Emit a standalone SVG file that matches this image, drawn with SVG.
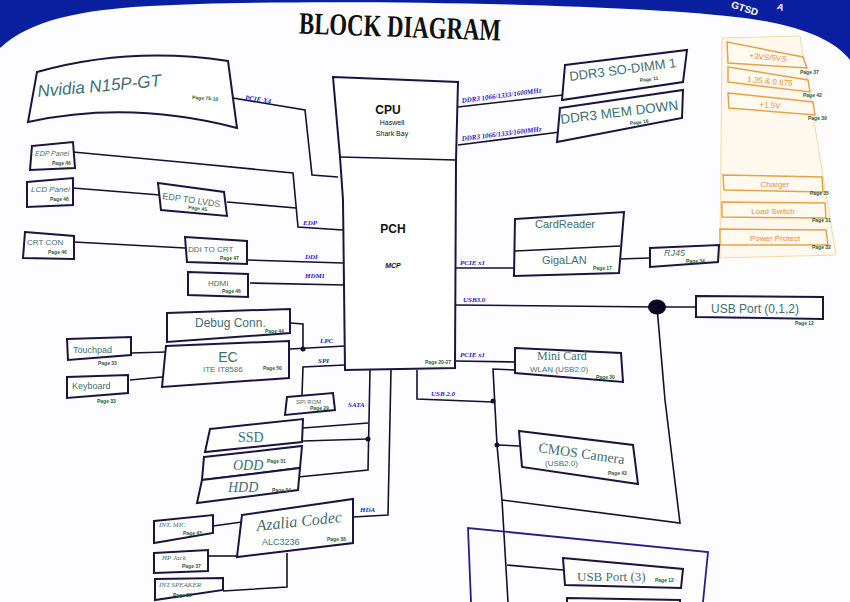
<svg xmlns="http://www.w3.org/2000/svg" width="850" height="602" viewBox="0 0 850 602">
<style>
.box{fill:#fff;stroke:#1c1440;stroke-width:2}
.obox{fill:#fffaf0;stroke:#e6a24a;stroke-width:1.5}
.w{fill:none;stroke:#14102e;stroke-width:1.6}
.t{fill:#3d6f70;font-family:"Liberation Sans",Arial,sans-serif}
.s{fill:#3d6f70;font-family:"Liberation Serif","Times New Roman",serif}
.k{fill:#111;font-family:"Liberation Sans",Arial,sans-serif}
.pg{fill:#1f5f3a;font-family:"Liberation Sans",Arial,sans-serif;font-size:5px;font-weight:bold}
.bus{fill:#1a1ac8;font-family:"Liberation Serif","Times New Roman",serif;font-size:7px;font-weight:bold;font-style:italic}
.o{fill:#ef8a3a;font-family:"Liberation Sans",Arial,sans-serif;font-size:8px;text-anchor:middle}
</style>
<rect width="850" height="602" fill="#fdfdff"/>
<path d="M0,0 H850 V60 C836,42 805,26 745,18 C630,3 300,-2 150,6 C80,10 30,20 0,48 Z" fill="#0a1fa0"/>
<text x="731" y="12" transform="rotate(18 745 8)" fill="#fff" font-family="Liberation Sans,Arial,sans-serif" font-size="10" font-weight="bold">GTSD</text>
<text x="777" y="10" transform="rotate(20 780 8)" fill="#fff" font-family="Liberation Sans,Arial,sans-serif" font-size="9" font-weight="bold">A</text>
<text x="400" y="37" transform="rotate(2 400 27)" text-anchor="middle" textLength="202" lengthAdjust="spacingAndGlyphs" font-family="Liberation Serif,Times New Roman,serif" font-weight="bold" font-size="31" fill="#111">BLOCK DIAGRAM</text>

<g id="power-panel">
<polygon points="722,38 800,36 836,255 720,258" fill="#fff8ec" stroke="#f3d9a8" stroke-width="1"/>
<polygon class="obox" points="727,42 803,57 807,68 728,63"/><text class="o" x="768" y="60" transform="rotate(5 768 57)">+3VS/5VS</text><text class="pg" x="800" y="74">Page 37</text>
<polygon class="obox" points="728,67 808,80 810,92 728,82"/><text class="o" x="770" y="84" transform="rotate(5 770 80)">1.35 &amp; 0.675</text><text class="pg" x="803" y="97">Page 42</text>
<polygon class="obox" points="728,93 813,102 815,115 729,108"/><text class="o" x="770" y="108" transform="rotate(4 770 105)">+1.5V</text><text class="pg" x="808" y="120">Page 39</text>
<polygon class="obox" points="723,175 822,177 823,192 724,190"/><text class="o" x="775" y="187">Charger</text><text class="pg" x="810" y="195">Page 35</text>
<polygon class="obox" points="722,202 825,203 826,218 722,217"/><text class="o" x="773" y="214">Load Switch</text><text class="pg" x="812" y="222">Page 31</text>
<polygon class="obox" points="720,229 826,230 828,245 720,245"/><text class="o" x="775" y="241">Power Protect</text><text class="pg" x="812" y="249">Page 32</text>
</g>

<g id="connectors">
<polyline class="w" points="233,98 305,110 312,175 338,177"/>
<polyline class="w" points="73,152 180,162 293,173 298,227 343,230"/>
<polyline class="w" points="73,188 160,195"/>
<polyline class="w" points="227,202 296,208"/>
<polyline class="w" points="74,242 185,248"/>
<polyline class="w" points="248,260 343,263"/>
<polyline class="w" points="250,283 345,285"/>
<polyline class="w" points="290,323 303,324 303,349"/>
<polyline class="w" points="290,349 345,346"/>
<polyline class="w" points="345,365 303,367 302,395"/>
<polyline class="w" points="131,353 166,352"/>
<polyline class="w" points="130,380 162,377"/>
<polyline class="w" points="370,370 368,470 298,477"/>
<polyline class="w" points="368,423 303,428"/>
<polyline class="w" points="368,439 303,441"/>
<polyline class="w" points="391,370 388,515 353,517"/>
<polyline class="w" points="213,526 242,522"/>
<polyline class="w" points="208,556 237,556"/>
<polyline class="w" points="223,591 287,587 287,553"/>
<polyline class="w" points="458,107 563,95"/>
<polyline class="w" points="458,145 560,132"/>
<polyline class="w" points="455,268 514,268"/>
<polyline class="w" points="619,259 650,258"/>
<polyline class="w" points="455,305 657,307 696,307"/>
<polyline class="w" points="657,307 665,400 680,523 502,500"/>
<polyline class="w" points="455,361 515,362"/>
<polyline class="w" points="417,370 417,399 493,402"/>
<polyline class="w" points="515,370 493,369 497,445 502,500 508,602"/>
<polyline class="w" points="497,445 520,446"/>
<polyline class="w" points="507,565 563,570"/>
<circle cx="303" cy="349" r="2.5" fill="#14102e"/>
<circle cx="368" cy="439" r="2.5" fill="#14102e"/>
<circle cx="493" cy="401" r="2.5" fill="#14102e"/>
<circle cx="497" cy="445" r="2.5" fill="#14102e"/>
<ellipse cx="657" cy="307" rx="9" ry="7.5" fill="#0a0820"/>
<text class="bus" x="245" y="100" transform="rotate(8 245 98)">PCIE X4</text>
<text class="bus" x="303" y="225">EDP</text>
<text class="bus" x="305" y="259">DDI</text>
<text class="bus" x="305" y="278">HDMI</text>
<text class="bus" x="320" y="343">LPC</text>
<text class="bus" x="318" y="363">SPI</text>
<text class="bus" x="348" y="407">SATA</text>
<text class="bus" x="360" y="512">HDA</text>
<text class="bus" x="462" y="103" transform="rotate(-7.5 462 103)">DDR3 1066/1333/1600MHz</text>
<text class="bus" x="462" y="141" transform="rotate(-7 462 141)">DDR3 1066/1333/1600MHz</text>
<text class="bus" x="460" y="265">PCIE x1</text>
<text class="bus" x="463" y="302">USB3.0</text>
<text class="bus" x="460" y="357">PCIE x1</text>
<text class="bus" x="431" y="396">USB 2.0</text>
</g>

<g id="cpu-pch">
<polygon class="box" points="333,77 458,82 456,160 455,368 345,370 343,200 340,157"/>
<line class="w" x1="340" y1="157" x2="456" y2="160" stroke-width="2"/>
<text class="k" x="388" y="114" font-size="12" font-weight="bold" text-anchor="middle">CPU</text>
<text class="k" x="392" y="125" font-size="7" text-anchor="middle">Haswell</text>
<text class="k" x="392" y="136" font-size="7" text-anchor="middle">Shark Bay</text>
<text class="k" x="393" y="233" font-size="12" font-weight="bold" text-anchor="middle">PCH</text>
<text class="k" x="393" y="268" font-size="7" font-weight="bold" font-style="italic" text-anchor="middle">MCP</text>
<text class="pg" x="425" y="364">Page 20-27</text>
</g>

<g id="nvidia">
<path class="box" d="M37,72 Q130,46 228,61 L237,128 Q130,100 28,122 Z"/>
<text class="t" x="38" y="97" transform="rotate(-5 38 97)" font-size="17" font-style="italic">Nvidia N15P-GT</text>
<text class="pg" x="192" y="99" transform="rotate(4 192 99)">Page 75-10</text>
</g>
<g id="edp-panel">
<polygon class="box" points="32,146 73,142 75,168 30,170"/>
<text class="t" x="35" y="156" font-size="7" font-style="italic">EDP Panel</text><text class="pg" x="52" y="165">Page 46</text>
</g>
<g id="lcd-panel">
<polygon class="box" points="27,182 73,178 73,205 27,207"/>
<text class="t" x="31" y="192" font-size="8" font-style="italic">LCD Panel</text><text class="pg" x="50" y="201">Page 46</text>
</g>
<g id="edp-to-lvds">
<polygon class="box" points="158,183 224,192 227,216 161,210"/>
<text class="t" x="162" y="199" transform="rotate(8 162 199)" font-size="9">EDP TO LVDS</text><text class="pg" x="188" y="209" transform="rotate(6 188 209)">Page 45</text>
</g>
<g id="crt-con">
<polygon class="box" points="25,232 74,236 74,259 23,258"/>
<text class="t" x="27" y="245" font-size="8">CRT CON</text><text class="pg" x="48" y="254">Page 46</text>
</g>
<g id="ddi-to-crt">
<polygon class="box" points="185,237 247,241 247,264 187,262"/>
<text class="t" x="188" y="252" font-size="8">DDI TO CRT</text><text class="pg" x="220" y="260">Page 47</text>
</g>
<g id="hdmi">
<polygon class="box" points="188,272 248,274 248,297 188,295"/>
<text class="t" x="208" y="286" font-size="8">HDMI</text><text class="pg" x="222" y="293">Page 46</text>
</g>
<g id="debug-conn">
<polygon class="box" points="167,313 290,309 290,333 167,342"/>
<text class="t" x="195" y="327" font-size="12">Debug Conn.</text><text class="pg" x="265" y="333">Page 44</text>
</g>
<g id="ec">
<polygon class="box" points="166,346 289,341 289,378 162,387"/>
<text class="t" x="228" y="362" font-size="14" text-anchor="middle">EC</text>
<text class="t" x="203" y="372" font-size="8">ITE IT8586</text><text class="pg" x="263" y="370">Page 50</text>
</g>
<g id="touchpad">
<polygon class="box" points="67,339 131,337 131,355 68,360"/>
<text class="t" x="73" y="353" font-size="9">Touchpad</text><text class="pg" x="98" y="365">Page 33</text>
</g>
<g id="keyboard">
<polygon class="box" points="67,377 128,375 128,393 67,398"/>
<text class="t" x="72" y="389" font-size="9">Keyboard</text><text class="pg" x="97" y="403">Page 33</text>
</g>
<g id="spi-rom">
<polygon class="box" points="287,397 333,393 335,410 285,415"/>
<text class="t" x="296" y="404" font-size="6">SPI ROM</text><text class="pg" x="310" y="410">Page 29</text>
</g>
<g id="ssd">
<polygon class="box" points="210,429 303,419 302,442 205,452"/>
<text class="s" x="238" y="442" font-size="14">SSD</text>
</g>
<g id="odd">
<polygon class="box" points="204,457 302,446 300,468 202,480"/>
<text class="s" x="233" y="470" font-size="14" font-style="italic">ODD</text><text class="pg" x="267" y="463">Page 31</text>
</g>
<g id="hdd">
<polygon class="box" points="202,480 300,468 298,490 197,503"/>
<text class="s" x="228" y="492" font-size="14" font-style="italic">HDD</text><text class="pg" x="272" y="492">Page 34</text>
</g>
<g id="azalia">
<polygon class="box" points="242,515 353,499 353,543 237,557"/>
<text class="s" x="257" y="531" transform="rotate(-6 257 531)" font-size="16" font-style="italic">Azalia Codec</text>
<text class="t" x="262" y="545" font-size="9">ALC3236</text><text class="pg" x="327" y="541">Page 38</text>
</g>
<g id="int-mic">
<polygon class="box" points="154,521 213,515 213,533 154,543"/>
<text class="s" x="159" y="527" font-size="7" font-style="italic">INT. MIC</text><text class="pg" x="183" y="535">Page 43</text>
</g>
<g id="hp-jack">
<polygon class="box" points="154,553 208,550 208,571 154,573"/>
<text class="s" x="162" y="560" font-size="7" font-style="italic">HP Jack</text><text class="pg" x="182" y="568">Page 37</text>
</g>
<g id="int-speaker">
<polygon class="box" points="155,579 223,578 223,590 155,600"/>
<text class="s" x="159" y="587" font-size="7" font-style="italic">INT SPEAKER</text><text class="pg" x="173" y="597">Page 39</text>
</g>
<g id="ddr3-so-dimm">
<polygon class="box" points="565,65 687,50 683,82 562,100"/>
<text class="t" x="570" y="81" transform="rotate(-7.5 570 81)" font-size="13">DDR3 SO-DIMM 1</text><text class="pg" x="640" y="82" transform="rotate(-7 640 82)">Page 11</text>
</g>
<g id="ddr3-mem-down">
<polygon class="box" points="560,108 683,90 682,118 557,142"/>
<text class="t" x="561" y="124" transform="rotate(-7 561 124)" font-size="13.5">DDR3 MEM DOWN</text><text class="pg" x="630" y="125" transform="rotate(-7 630 125)">Page 16</text>
</g>
<g id="cardreader-gigalan">
<polygon class="box" points="515,219 624,212 619,273 514,276"/>
<line class="w" x1="515" y1="251" x2="620" y2="246" stroke-width="2"/>
<text class="t" x="535" y="228" font-size="11">CardReader</text>
<text class="t" x="542" y="264" font-size="11">GigaLAN</text><text class="pg" x="593" y="270">Page 17</text>
</g>
<g id="rj45">
<polygon class="box" points="650,248 719,245 718,262 650,267"/>
<text class="t" x="664" y="256" font-size="9" font-style="italic">RJ45</text><text class="pg" x="686" y="263">Page 34</text>
</g>
<g id="usb-port-012">
<polygon class="box" points="696,296 823,297 823,319 696,317"/>
<text class="t" x="711" y="313" font-size="12">USB Port (0,1,2)</text><text class="pg" x="795" y="325">Page 12</text>
</g>
<g id="mini-card">
<polygon class="box" points="515,348 621,353 623,382 515,373"/>
<text class="s" x="537" y="360" font-size="12">Mini Card</text>
<text class="t" x="530" y="372" font-size="8">WLAN (USB2.0)</text><text class="pg" x="596" y="379">Page 30</text>
</g>
<g id="cmos-camera">
<polygon class="box" points="519,431 633,445 638,484 522,467"/>
<text class="s" x="538" y="452" transform="rotate(8 538 452)" font-size="14">CMOS Camera</text>
<text class="t" x="545" y="466" font-size="8">(USB2.0)</text><text class="pg" x="608" y="475">Page 43</text>
</g>
<g id="usb-hub-area">
<polyline points="471,602 468,528 708,552 703,602" fill="none" stroke="#23208c" stroke-width="1.8"/>
</g>
<g id="usb-port-3">
<polygon class="box" points="563,558 683,569 681,588 565,585"/>
<text class="s" x="577" y="581" font-size="13">USB Port (3)</text><text class="pg" x="655" y="582">Page 12</text>
</g>
<g id="bottom-box">
<polygon class="box" points="567,598 680,600 680,606 567,606"/>
</g>
</svg>
